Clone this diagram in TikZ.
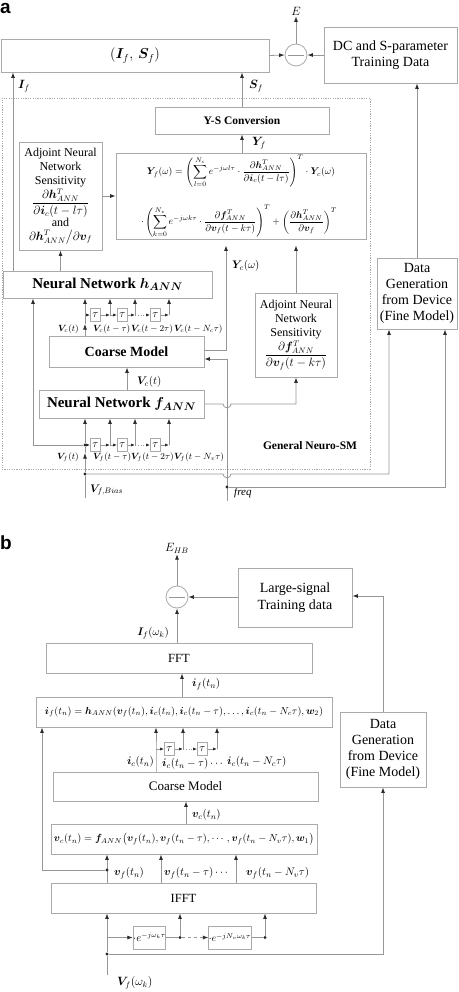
\documentclass[tikz,border=0pt]{standalone}
\usepackage{amsmath}
\usepackage[no-math]{fontspec}
\setmainfont{Liberation Serif}
\newfontfamily\labfont{Liberation Sans}
\usepackage{bm}
\usepackage{graphicx}
\usetikzlibrary{arrows.meta,calc}
\definecolor{bxc}{RGB}{170,170,170}
\definecolor{lnc}{RGB}{150,150,150}
\definecolor{tipc}{RGB}{45,45,45}
\newcommand{\fsz}[1]{\fontsize{#1}{#1}\selectfont}
\tikzset{
 bx/.style={draw=bxc, line width=0.8pt, inner sep=1pt, align=center},
 ln/.style={draw=lnc, line width=0.8pt},
 arr/.style={ln, -{Latex[length=5.5pt,width=4pt,color=tipc]}},
 sarr/.style={ln, -{Latex[length=4pt,width=3.2pt,color=tipc]}},
 jdot/.style={circle, fill=black!85, inner sep=0pt, minimum size=3.2pt},
 dl/.style={bx, minimum width=10pt, minimum height=13pt, inner sep=0pt, font=\fsz{11}},
 lbn/.style={inner sep=0pt, font=\fsz{9}},
 lbm/.style={inner sep=0pt, font=\fsz{11}},
 lbl/.style={inner sep=0pt, font=\fsz{12}},
}
\begin{document}
\begin{tikzpicture}[x=1pt,y=-1pt]
\useasboundingbox (0,0) rectangle (458,992);
% ================= part a =================
\node[anchor=north west, inner sep=0pt, font=\labfont\bfseries\fsz{19}] (La) at (0,3) {a};
\node[draw=bxc, line width=0.6pt, dash pattern=on 1.2pt off 1.2pt, minimum width=368pt, minimum height=371pt, inner sep=0pt] (GN) at (186,283.5) {};
\node[font=\bfseries\fsz{11.5}, inner sep=0pt] (GNl) at (310,446) {General Neuro-SM};
\node[bx, minimum width=268pt, minimum height=33pt, font=\fsz{14}] (IS) at (135,55.5) {$(\bm{I}_f,\,\bm{S}_f)$};
\node[circle, draw=bxc, line width=0.8pt, minimum size=22pt, inner sep=0pt] (C) at (296,55) {};
\node[inner sep=1pt, font=\fsz{12}] (E) at (296,11) {$E$};
\node[bx, minimum width=133pt, minimum height=56pt, font=\fontsize{14}{16.5}\selectfont] (DC) at (390.5,55) {DC and S-parameter\\Training Data};
\node[bx, minimum width=174pt, minimum height=27pt, font=\bfseries\fsz{11.5}] (YS) at (242,120.5) {Y-S Conversion};
\node[bx, minimum width=250pt, minimum height=86pt] (FB) at (241,196) {};
\node[inner sep=0pt] (F1) at (241,171) {\resizebox{188pt}{!}{$\displaystyle \bm{Y}_f(\omega)=\left(\sum_{l=0}^{N_c}e^{-j\omega l\tau}\cdot\frac{\partial\bm{h}_{ANN}^{T}}{\partial\bm{i}_c(t-l\tau)}\right)^{T}\cdot\bm{Y}_c(\omega)$}};
\node[inner sep=0pt] (F2) at (239,221) {\resizebox{196pt}{!}{$\displaystyle \cdot\left(\sum_{k=0}^{N_v}e^{-j\omega k\tau}\cdot\frac{\partial\bm{f}_{ANN}^{T}}{\partial\bm{v}_f(t-k\tau)}\right)^{T}+\left(\frac{\partial\bm{h}_{ANN}^{T}}{\partial\bm{v}_f}\right)^{T}$}};
\node[bx, minimum width=83pt, minimum height=108pt, font=\fontsize{12}{14}\selectfont] (AH) at (60.5,196) {Adjoint Neural\\Network\\Sensitivity\\[1pt]$\dfrac{\partial\bm{h}_{ANN}^{T}}{\partial\bm{i}_c(t-l\tau)}$\\[-1pt]and\\$\partial\bm{h}_{ANN}^{T}\big/\partial\bm{v}_f$};
\node[bx, minimum width=209pt, minimum height=27pt, font=\bfseries\fsz{15}] (NH) at (107.5,284.5) {Neural Network $\bm{h}_{\bm{ANN}}$};
\node[bx, minimum width=155pt, minimum height=31pt, font=\bfseries\fsz{14}] (CM) at (126.5,351.5) {Coarse Model};
\node[bx, minimum width=165pt, minimum height=28pt, font=\bfseries\fsz{15}] (NF) at (121.5,404) {Neural Network $\bm{f}_{\bm{ANN}}$};
\node[bx, minimum width=82pt, minimum height=84pt, font=\fontsize{12}{14}\selectfont] (AF) at (296,335) {Adjoint Neural\\Network\\Sensitivity\\[1pt]$\dfrac{\partial\bm{f}_{ANN}^{T}}{\partial\bm{v}_f(t-k\tau)}$};
\node[bx, minimum width=80pt, minimum height=71pt, font=\fontsize{14}{16}\selectfont] (DGa) at (417,293.5) {Data\\Generation\\from Device\\(Fine Model)};
% connectors top
\draw[arr] (IS.east) -- (C.west);
\draw[arr] (DC.west) -- (C.east);
\draw[arr] (C.north) -- (E.south);
\draw[ln] ($(C.west)+(3.5,0)$) -- ($(C.east)+(-3.5,0)$);
\draw[arr] (DGa.north) -- (DGa.north |- DC.south);
\draw[arr] (YS.north) -- (YS.north |- IS.south);
\node[lbl, anchor=west] (lSf) at (249,86) {$\bm{S}_f$};
\draw[arr] (YS.south |- FB.north) -- (YS.south);
\node[lbl, anchor=west] (lYf) at (252,143) {$\bm{Y}_f$};
\coordinate (ifb) at (13,0);
\draw[arr] (ifb |- NH.north) -- (ifb |- IS.south);
\node[lbl, anchor=west] (lIf) at (18,86) {$\bm{I}_f$};
\draw[arr] (AH.south |- NH.north) -- (AH.south);
\draw[arr] (AH.east) -- (AH.east -| FB.west);
\coordinate (yc) at (226,350);
\draw[arr, shorten >=6pt] (yc -| CM.east) -- (yc) -- (yc |- FB.south);
\node[lbm, anchor=west] (lYc) at (232,266) {$\bm{Y}_c(\omega)$};
\draw[arr, shorten >=6pt] (AF.north) -- (AF.north |- FB.south);
\coordinate (nfa) at (296,404);
\draw[arr] (NF.east) -- (223,404) .. controls (223,409) and (231,409) .. (231,404) -- (nfa) -- (AF.south);
% freq
\coordinate (fq0) at (227,501);
\coordinate (fqt) at (227,359);
\draw[arr] (fq0) -- (fqt) -- (fqt -| CM.east);
\node[lbm, anchor=west] (lfreq) at (234,493) {\textit{freq}};
\node[jdot] (dfq) at (227,487) {};
\coordinate (dg2) at (445,487);
\draw[arr] (dfq) -- (dg2) -- (dg2 |- DGa.south);
\node[jdot] (dvb) at (85,474) {};
\coordinate (dg1) at (389,474);
\draw[arr] (dvb) -- (223,474) .. controls (223,479) and (231,479) .. (231,474) -- (dg1) -- (dg1 |- DGa.south);
\coordinate (vb0) at (85,498);
\draw[ln] (vb0) -- (dvb);
\node[lbm, anchor=west] (lvb) at (90,490) {$\bm{V}_{f,Bias}$};
% V_f chain
\node[jdot] (fj0) at (85,445) {};
\coordinate (fjm) at (85,453);
\draw[arr] (dvb) -- (fjm);
\draw[ln] (fjm) -- (fj0);
\draw[arr] (fj0) -- (fj0 |- NF.south);
\coordinate (vfl) at (33,445);
\draw[arr] (fj0) -- (vfl) -- (vfl |- NH.south);
\node[dl] (f1) at (95.5,445) {$\tau$};
\node[dl] (f2) at (122.5,445) {$\tau$};
\node[dl] (f3) at (155.5,445) {$\tau$};
\coordinate (fj1) at (110,445);
\coordinate (fj2) at (135,445);
\coordinate (fj3) at (169,445);
\draw[sarr] (fj0) -- (f1.west);
\draw[sarr] (f1.east) -- (fj1);
\draw[sarr] (fj1) -- (f2.west);
\draw[sarr] (f2.east) -- (fj2);
\draw[sarr, dotted] (fj2) -- (f3.west);
\draw[sarr] (f3.east) -- (fj3);
\foreach \j in {fj1,fj2,fj3} \draw[arr] (\j) -- (\j |- NF.south);
\node[lbn, anchor=east] (lvf0) at (79,457) {$\bm{V}_f(t)$};
\node[lbn, anchor=west] (lvf1) at (93,457) {$\bm{V}_f(t-\tau)$};
\node[lbn, anchor=west] (lvf2) at (131,457) {$\bm{V}_f(t-2\tau)$};
\node[lbn, anchor=west] (lvf3) at (174,457) {$\bm{V}_f(t-N_v\tau)$};
% V_c chain
\coordinate (hj0) at (85,315);
\coordinate (hjm) at (85,324);
\draw[arr] (hj0 |- CM.north) -- (hjm);
\draw[ln] (hjm) -- (hj0);
\draw[arr] (hj0) -- (hj0 |- NH.south);
\node[dl] (h1) at (95.5,315) {$\tau$};
\node[dl] (h2) at (122.5,315) {$\tau$};
\node[dl] (h3) at (155.5,315) {$\tau$};
\coordinate (hj1) at (110,315);
\coordinate (hj2) at (135,315);
\coordinate (hj3) at (169,315);
\draw[sarr] (hj0) -- (h1.west);
\draw[sarr] (h1.east) -- (hj1);
\draw[sarr] (hj1) -- (h2.west);
\draw[sarr] (h2.east) -- (hj2);
\draw[sarr, dotted] (hj2) -- (h3.west);
\draw[sarr] (h3.east) -- (hj3);
\foreach \j in {hj1,hj2,hj3} \draw[arr] (\j) -- (\j |- NH.south);
\node[lbn, anchor=east] (lvc0) at (79,329) {$\bm{V}_c(t)$};
\node[lbn, anchor=west] (lvc1) at (93,329) {$\bm{V}_c(t-\tau)$};
\node[lbn, anchor=west] (lvc2) at (131,329) {$\bm{V}_c(t-2\tau)$};
\node[lbn, anchor=west] (lvc3) at (174,329) {$\bm{V}_c(t-N_c\tau)$};
\coordinate (vct) at (127,0);
\draw[arr] (vct |- NF.north) -- (vct |- CM.south);
\node[lbm, anchor=west] (lvct) at (137,382) {$\bm{V}_c(t)$};
% ================= part b =================
\node[anchor=north west, inner sep=0pt, font=\labfont\bfseries\fsz{19}] (Lb) at (0,536) {b};
\node[circle, draw=bxc, line width=0.8pt, minimum size=22pt, inner sep=0pt] (Cb) at (177,597) {};
\node[inner sep=1pt, font=\fsz{12}] (EHB) at (177,548) {$E_{HB}$};
\draw[arr] (Cb.north) -- (EHB.south);
\draw[ln] ($(Cb.west)+(3.5,0)$) -- ($(Cb.east)+(-3.5,0)$);
\node[bx, minimum width=114pt, minimum height=59pt, font=\fontsize{14}{16.5}\selectfont] (LS) at (295,597.5) {Large-signal\\Training data};
\draw[arr] (LS.west |- Cb.east) -- (Cb.east);
\node[bx, minimum width=86pt, minimum height=75pt, font=\fontsize{14}{16}\selectfont] (DGb) at (383,749.5) {Data\\Generation\\from Device\\(Fine Model)};
\coordinate (lsr) at (383,596);
\draw[arr] (DGb.north) -- (lsr) -- (lsr -| LS.east);
\node[bx, minimum width=266pt, minimum height=30pt, font=\fsz{12.5}] (FFT) at (179,658) {FFT};
\draw[arr] (Cb.south |- FFT.north) -- (Cb.south);
\node[lbm, anchor=east] (lIfw) at (169,633) {$\bm{I}_f(\omega_k)$};
\node[bx, minimum width=296pt, minimum height=30pt] (HEQ) at (184,712) {\resizebox{278pt}{!}{$\bm{i}_f(t_n)=\bm{h}_{ANN}(\bm{v}_f(t_n),\bm{i}_c(t_n),\bm{i}_c(t_n-\tau),\ldots,\bm{i}_c(t_n-N_c\tau),\bm{w}_2)$}};
\coordinate (hf) at (182,0);
\draw[arr] (hf |- HEQ.north) -- (hf |- FFT.south);
\node[lbm, anchor=west] (lift) at (192,684) {$\bm{i}_f(t_n)$};
\node[bx, minimum width=265pt, minimum height=29pt, font=\fsz{13}] (CMb) at (185.5,786.5) {Coarse Model};
% i_c chain
\coordinate (bj0) at (156,749);
\coordinate (bj1) at (183,749);
\coordinate (bj2) at (217,749);
\draw[arr] (bj0 |- CMb.north) -- (bj0) -- (bj0 |- HEQ.south);
\node[dl] (b1) at (169.5,749) {$\tau$};
\node[dl] (b2) at (202.5,749) {$\tau$};
\draw[sarr] (bj0) -- (b1.west);
\draw[sarr] (b1.east) -- (bj1);
\draw[sarr, dotted] (bj1) -- (b2.west);
\draw[sarr] (b2.east) -- (bj2);
\foreach \j in {bj1,bj2} \draw[arr] (\j) -- (\j |- HEQ.south);
\node[lbm, anchor=east] (lic0) at (154,762) {$\bm{i}_c(t_n)$};
\node[lbm, anchor=west] (lic1) at (162,764) {$\bm{i}_c(t_n-\tau)\cdots$};
\node[lbm, anchor=west] (lic2) at (227,762) {$\bm{i}_c(t_n-N_c\tau)$};
\node[bx, minimum width=266pt, minimum height=30pt] (FEQ) at (184,839) {\resizebox{260pt}{!}{$\bm{v}_c(t_n)=\bm{f}_{ANN}\big(\bm{v}_f(t_n),\bm{v}_f(t_n-\tau),\cdots,\bm{v}_f(t_n-N_v\tau),\bm{w}_1\big)$}};
\coordinate (fc) at (186,0);
\draw[arr] (fc |- FEQ.north) -- (fc |- CMb.south);
\node[lbm, anchor=west] (lvctn) at (192,815) {$\bm{v}_c(t_n)$};
\node[bx, minimum width=265pt, minimum height=30pt, font=\fsz{12.5}] (IFFT) at (183.5,898) {IFFT};
\coordinate (ia) at (107,0);
\coordinate (ib) at (161,0);
\coordinate (ic) at (236,0);
\foreach \j in {ia,ib,ic} \draw[arr] (\j |- IFFT.north) -- (\j |- FEQ.south);
\node[jdot] (dvf) at (107,870) {};
\coordinate (lx) at (42,870);
\draw[arr] (dvf) -- (lx) -- (lx |- HEQ.south);
\node[lbm, anchor=west] (lvft0) at (114,873) {$\bm{v}_f(t_n)$};
\node[lbm, anchor=west] (lvft1) at (164,873) {$\bm{v}_f(t_n-\tau)\cdots$};
\node[lbm, anchor=west] (lvft2) at (246,873) {$\bm{v}_f(t_n-N_v\tau)$};
% exponential chain
\node[bx, minimum width=31pt, minimum height=23pt, inner sep=0pt, font=\fsz{10.5}] (E1) at (149.5,937.5) {$\cdot e^{-j\omega_k\tau}$};
\node[bx, minimum width=38pt, minimum height=23pt, inner sep=0pt, font=\fsz{10}] (E2) at (230,937.5) {$\cdot e^{-jN_v\omega_k\tau}$};
\coordinate (ej0) at (107,937.5);
\node[jdot] (ed1) at (180,937.5) {};
\node[jdot] (ed2) at (265,937.5) {};
\node[jdot] (dvm) at (107,954) {};
\coordinate (vw0) at (107,975);
\draw[ln] (vw0) -- (dvm);
\draw[arr] (dvm) -- (dvm |- IFFT.south);
\draw[arr] (ej0) -- (E1.west);
\draw[ln] (E1.east) -- (ed1);
\draw[arr, dashed] (ed1) -- (E2.west);
\draw[ln] (E2.east) -- (ed2);
\draw[arr] (ed1) -- (ed1 |- IFFT.south);
\draw[arr] (ed2) -- (ed2 |- IFFT.south);
\coordinate (dgr) at (383,954);
\draw[arr] (dvm) -- (dgr) -- (DGb.south);
\node[lbl, anchor=west] (lVw) at (117,983) {$\bm{V}_f(\omega_k)$};
\end{tikzpicture}
\end{document}
